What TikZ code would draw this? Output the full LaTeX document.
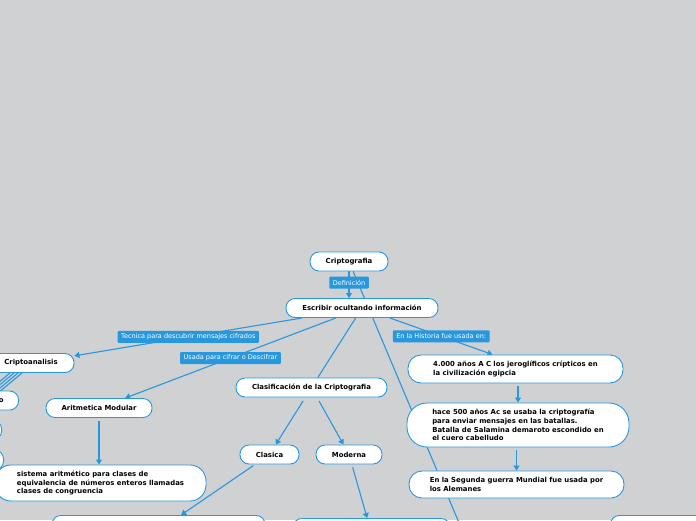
\documentclass[tikz,border=0pt]{standalone}
\usepackage{fontspec}
\setmainfont{DejaVu Sans}
\usetikzlibrary{arrows.meta}
\definecolor{mapblue}{RGB}{40,152,222}
\definecolor{mapgray}{RGB}{208,209,211}
\pgfdeclarelayer{bg}
\pgfdeclarelayer{edges}
\pgfsetlayers{bg,edges,main}

\begin{document}
\begin{tikzpicture}[x=1pt,y=-1pt,
			idea/.style = {shape=rectangle, rounded corners=9pt,
				draw=mapblue, line width=0.9pt, fill=white, align=left,
				minimum height=19pt, inner sep=2pt,
				font=\fontsize{6.9}{8.6}\selectfont\bfseries},
			tag/.style = {shape=rectangle, rounded corners=1pt, fill=mapblue,
				text=white, inner xsep=3.5pt, inner ysep=0pt, minimum height=12pt,
				font=\fontsize{6.5}{8}\selectfont},
			link/.style = {draw=mapblue, line width=1.1pt},
			arrow/.style = {link, -{Triangle[length=5pt,width=6pt]}}]
			\useasboundingbox (0,0) rectangle (696,520);
			\begin{pgfonlayer}{bg}
			\fill[mapgray] (0,0) rectangle (696,520);
			\end{pgfonlayer}
			% main topics
			\node[idea, minimum width=78pt] (crp) at (349,261.5) {Criptografia};
			\node[idea, minimum width=152pt] (esc) at (362,308) {Escribir ocultando información};
			\node[idea, minimum width=86pt] (cra) at (31,363) {Criptoanalisis};
			\node[idea, minimum width=106pt] (ari) at (99,408) {Aritmetica Modular};
			\node[idea, minimum width=211pt, minimum height=36pt, rounded corners=16pt] (sis) at (100.5,483)
				{sistema aritmético para clases de\\equivalencia de números enteros llamadas\\clases de congruencia};
			\node[idea, minimum width=151pt] (clas) at (311.5,387.5) {Clasificación de la Criptografia};
			\node[idea, minimum width=59pt] (cla) at (269.5,454.5) {Clasica};
			\node[idea, minimum width=66pt] (mod) at (349,454.5) {Moderna};
			% history
			\node[idea, minimum width=215pt, minimum height=28pt, rounded corners=13pt] (h1) at (515.5,369)
				{4.000 años A C los jeroglíficos crípticos en\\la civilización egipcia};
			\node[idea, minimum width=222pt, minimum height=44pt, rounded corners=20pt] (h2) at (518,425)
				{hace 500 años Ac se usaba la criptografía\\para enviar mensajes en las batallas.\\Batalla de Salamina demaroto escondido en\\el cuero cabelludo};
			\node[idea, minimum width=215pt, minimum height=27pt, rounded corners=13pt] (h3) at (516.5,484.5)
				{En la Segunda guerra Mundial fue usada por\\los Alemanes};
			% nodes cut by the frame
			\node[idea, anchor=east, text width=60pt, align=right, inner xsep=15pt] (l1) at (19,400.5) {o};
			\node[idea, anchor=east, minimum width=80pt, minimum height=20pt] (l2) at (2,430) {};
			\node[idea, anchor=east, minimum width=80pt, minimum height=20pt] (l3) at (4,460) {};
			\node[idea, anchor=north, minimum width=213pt, minimum height=30pt] (b1) at (158.5,515) {};
			\node[idea, anchor=north, minimum width=157pt, minimum height=30pt] (b2) at (371.5,518) {};
			\node[idea, anchor=north west, minimum width=150pt, minimum height=30pt] (b3) at (610,515) {};
			\coordinate (crp-end) at (481,575);
			\coordinate (cra-a) at (-8,398);
			\coordinate (cra-b) at (-12,398);
			\coordinate (cra-c) at (-16,398);
			\coordinate (cra-d) at (-20,398);
			% connectors
			\begin{pgfonlayer}{edges}
			\draw[link] (crp) -- (crp-end);
			\draw[arrow] (crp.south) -- node[tag, pos=0.42] {Definición} (crp.south |- esc.north);
			\draw[arrow] (esc) -- node[tag] {Tecnica para descubrir mensajes cifrados} (cra);
			\draw[arrow] (esc) -- node[tag] {Usada para cifrar o Descifrar} (ari);
			\draw[link] (esc) -- (clas);
			\draw[arrow] (esc) -- node[tag] {En la Historia fue usada en:} ([xshift=-23pt]h1.north);
			\draw[arrow, shorten <=3pt] (h1.south -| h2.north) -- (h2.north);
			\draw[arrow, shorten <=3pt] (h2.south -| h3.north) -- (h3.north);
			\draw[arrow, shorten <=3pt] (ari.south) -- (ari.south |- sis.north);
			\draw[arrow, shorten <=4pt] (clas) -- (cla);
			\draw[arrow, shorten <=4pt] (clas) -- (mod);
			\draw[arrow, shorten <=2pt] (cla) -- (b1);
			\draw[arrow, shorten <=3pt] (mod) -- (b2);
			\draw[link] ([xshift=-9pt]cra.south) -- (cra-a);
			\draw[link] ([xshift=-13pt]cra.south) -- (cra-b);
			\draw[link] ([xshift=-17pt]cra.south) -- (cra-c);
			\draw[link] ([xshift=-21pt]cra.south) -- (cra-d);
			\end{pgfonlayer}
			\end{tikzpicture}
\end{document}
